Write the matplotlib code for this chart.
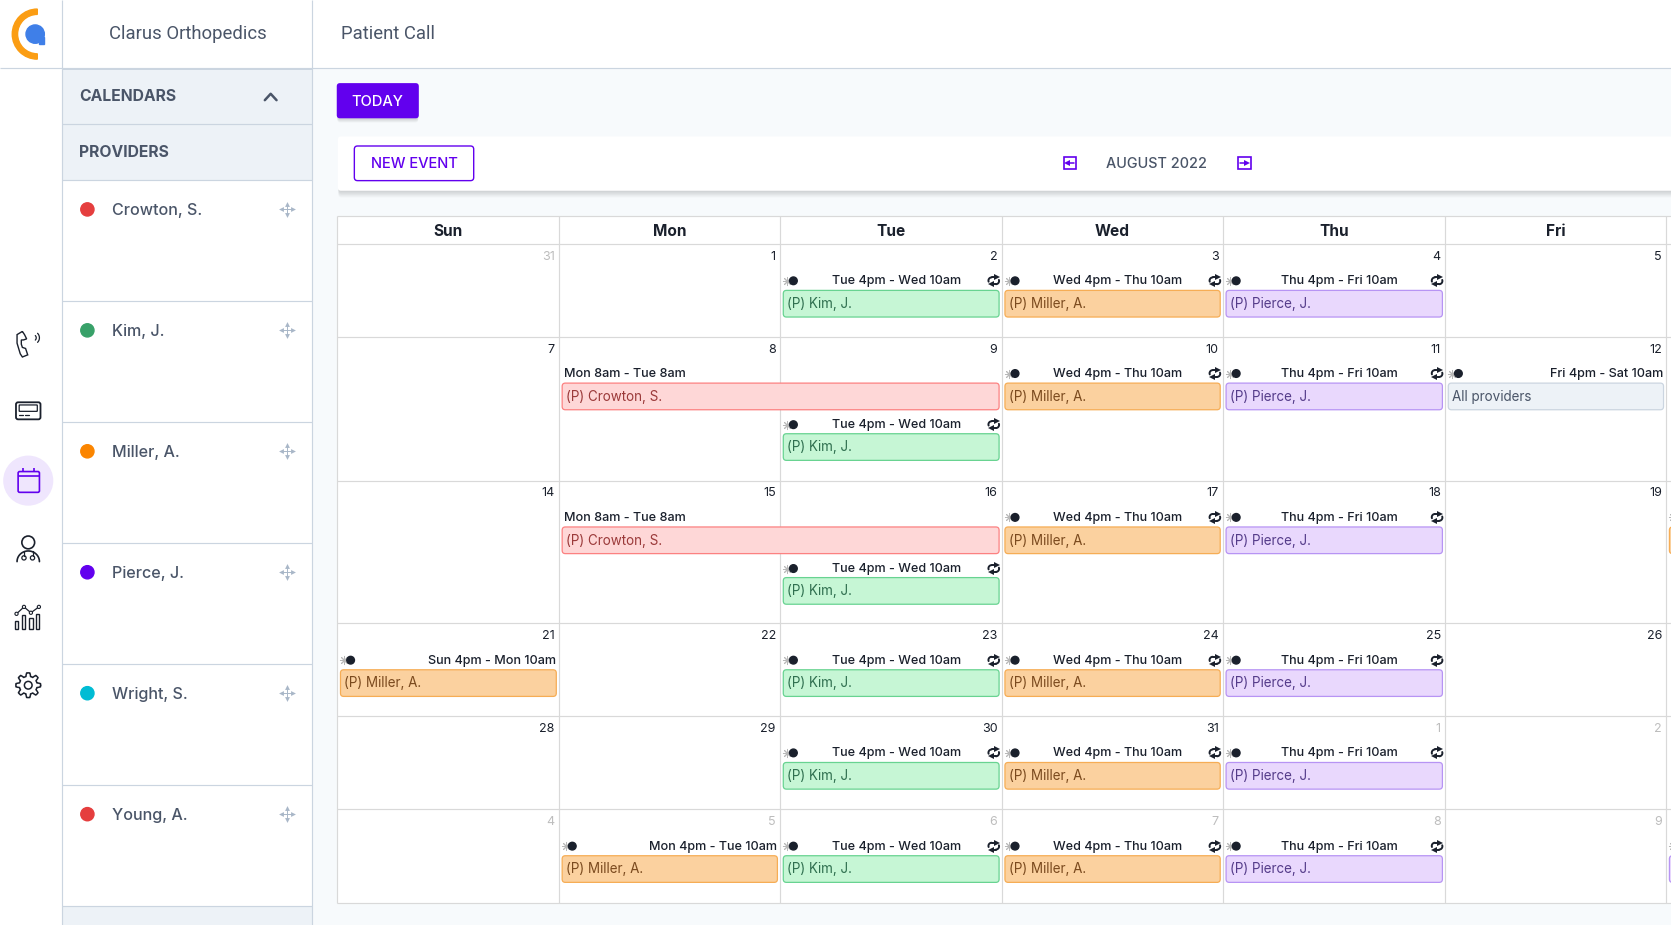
import numpy as np
import matplotlib
matplotlib.use('Agg')
import matplotlib.pyplot as plt
from matplotlib.patches import Circle, FancyBboxPatch, Rectangle, Wedge, PathPatch
from matplotlib.path import Path

plt.rcParams['font.family'] = ['Inter', 'DejaVu Sans']

weekdays = ['Sun', 'Mon', 'Tue', 'Wed', 'Thu', 'Fri', 'Sat']
week_dates = [
    [31, 1, 2, 3, 4, 5, 6],
    [7, 8, 9, 10, 11, 12, 13],
    [14, 15, 16, 17, 18, 19, 20],
    [21, 22, 23, 24, 25, 26, 27],
    [28, 29, 30, 31, 1, 2, 3],
    [4, 5, 6, 7, 8, 9, 10],
]
# (week, day) pairs that belong to another month
muted_first = [(0, 0)]
muted_from = (4, 4)

providers = ['Crowton, S.', 'Kim, J.', 'Miller, A.', 'Pierce, J.', 'Wright, S.', 'Young, A.']
provider_dots = ['#e53e3e', '#38a169', '#fb8500', '#6200ee', '#00bcd4', '#e53e3e']

ev_week = [1, 2, 0, 1, 2, 3, 4, 5, 0, 1, 2, 3, 4, 5, 0, 1, 2, 3, 4, 5, 1, 3, 5, 2, 5]
ev_day = [1, 1, 2, 2, 2, 2, 2, 2, 3, 3, 3, 3, 3, 3, 4, 4, 4, 4, 4, 4, 5, 0, 1, 6, 6]
ev_span = [2, 2] + [1] * 23
ev_name = ['(P) Crowton, S.'] * 2 + ['(P) Kim, J.'] * 6 + ['(P) Miller, A.'] * 6 + ['(P) Pierce, J.'] * 6 \
    + ['All providers', '(P) Miller, A.', '(P) Miller, A.', '(P) Miller, A.', '(P) Pierce, J.']
ev_time = ['Mon 8am - Tue 8am'] * 2 + ['Tue 4pm - Wed 10am'] * 6 + ['Wed 4pm - Thu 10am'] * 6 \
    + ['Thu 4pm - Fri 10am'] * 6 + ['Fri 4pm - Sat 10am', 'Sun 4pm - Mon 10am', 'Mon 4pm - Tue 10am',
                                    'Sat 4pm - Sun 10am', 'Sat 4pm - Sun 10am']
ev_repeat = [False] * 2 + [True] * 18 + [False] * 3 + [True] * 2

styles = {
    'Crowton': ('#fed7d7', '#fc8181', '#9b3a3a'),
    'Kim': ('#c6f6d5', '#68d391', '#2f6f4f'),
    'Miller': ('#fbd19f', '#f6ad55', '#7b4a1e'),
    'Pierce': ('#e9d8fd', '#b794f4', '#553c8a'),
    'All': ('#edf2f7', '#cbd5e0', '#4a5568'),
}

LINE = '#cbd5e0'
GRID = '#d9d9d9'
PURPLE = '#6200ee'
DARK = '#1a202c'
SLATE = '#4a5568'

col_x = [316.5, 524.5, 732, 940, 1147.5, 1356, 1563.5, 1771.5]
row_y = [229, 316, 451, 585, 672, 759.5, 847.5]
prov_y = [169, 282.5, 396, 509.5, 623, 736.5, 850]

fig = plt.figure(figsize=(16.71, 9.25), dpi=100, facecolor='white')
ax = fig.add_axes([0, 0, 1, 1])
ax.set_xlim(0, 1568)
ax.set_ylim(868, 0)
ax.axis('off')


def hline(y, x0, x1, color=LINE, lw=0.85, z=3):
    ax.plot([x0, x1], [y, y], color=color, lw=lw, zorder=z, solid_capstyle='butt')


def vline(x, y0, y1, color=LINE, lw=0.85, z=3):
    ax.plot([x, x], [y0, y1], color=color, lw=lw, zorder=z, solid_capstyle='butt')


def box(x0, y0, x1, y1, face, edge='none', lw=1.0, r=3, z=4):
    p = FancyBboxPatch((x0, y0), x1 - x0, y1 - y0, boxstyle=f'round,pad=0,rounding_size={r}',
                       fc=face, ec=edge, lw=lw, zorder=z)
    ax.add_patch(p)
    return p


def label(x, y, s, size, color=SLATE, ha='left', weight='normal', family=None, z=6):
    kw = {'family': family} if family else {}
    return ax.text(x, y, s, fontsize=size, color=color, ha=ha, va='center', fontweight=weight, zorder=z, **kw)


def stroke(xs, ys, color=DARK, lw=1.2, z=6):
    ax.plot(xs, ys, color=color, lw=lw, zorder=z, solid_capstyle='round', solid_joinstyle='round')


def shadow(x0, y0, x1, y1, grow=5, alpha=0.03, r=3):
    for g in range(1, grow + 1):
        box(x0 + 0.5, y0 + g * 0.3, x1 - 0.5, y1 + g * 0.8, 'black', r=r, z=2).set_alpha(alpha)


def sun_moon(x, y):
    ax.plot(x, y, marker=(8, 2, 0), ms=6.5, mew=0.7, color='#b8b8b8', zorder=6)
    ax.add_patch(Circle((x + 6, y), 3.6, color=DARK, zorder=7))


def repeat_icon(x, y):
    t = np.radians(np.linspace(90, 200, 8))
    stroke(x - 2 + 3 * np.cos(t), y - 0.2 - 3 * np.sin(t), lw=1.4)
    stroke([x - 2, x + 2], [y - 3.2, y - 3.2], lw=1.4)
    stroke(x + 2 - 3 * np.cos(t), y + 0.2 + 3 * np.sin(t), lw=1.4)
    stroke([x + 2, x - 2], [y + 3.2, y + 3.2], lw=1.4)
    ax.plot(x + 2.8, y - 3.2, marker='>', ms=4.6, color=DARK, mew=0, zorder=6)
    ax.plot(x - 2.8, y + 3.2, marker='<', ms=4.6, color=DARK, mew=0, zorder=6)


def move_icon(x, y):
    c = '#a9b7c8'
    stroke([x - 6, x + 6], [y, y], color=c, lw=0.7)
    stroke([x, x], [y - 6, y + 6], color=c, lw=0.7)
    for dx, dy, m in [(-5.5, 0, '<'), (5.5, 0, '>'), (0, -5.5, '^'), (0, 5.5, 'v')]:
        ax.plot(x + dx, y + dy, marker=m, ms=3.5, mew=0, color=c, zorder=6)


# page background
ax.add_patch(Rectangle((293.5, 64.5), 1280, 810, fc='#f7fafc', ec='none', zorder=1))
ax.add_patch(Rectangle((58.5, 64.5), 235, 104.5, fc='#edf2f7', ec='none', zorder=1))
ax.add_patch(Rectangle((58.5, prov_y[-1]), 235, 20, fc='#edf2f7', ec='none', zorder=1))

# frame of the shell
hline(64, 0, 1568)
hline(65, 58.5, 293, lw=1.4)
vline(58, 0, 868)
vline(293, 0, 868)
hline(116.5, 58.5, 293)
for y in prov_y:
    hline(y, 58.5, 293)

# logo
ax.add_patch(Wedge((35, 32), 23.5, 90, 270, width=5, color='#fb9d13', zorder=5))
ax.add_patch(Circle((33, 32), 8.6, color='#3f7fe8', zorder=5))
ax.add_patch(Rectangle((36.5, 35), 5, 6, color='#3f7fe8', zorder=5))

# top titles
label(102.5, 31.5, 'Clarus Orthopedics', 13.3, family='Roboto')
label(320, 31.5, 'Patient Call', 13.3, family='Roboto')

# side nav icons
phone = Path([(21, 311), (16, 314), (16, 322), (19, 332), (21, 335), (26, 333), (25, 330), (24, 327), (21, 326),
              (20, 323), (20, 319), (22, 319), (25, 318), (23, 314), (21, 311)])
ax.add_patch(PathPatch(phone, fc='none', ec=DARK, lw=1.0, zorder=6))
for r in (3, 6):
    t = np.radians(np.linspace(-45, 45, 12))
    stroke(31 + r * np.cos(t), 317 + r * np.sin(t), lw=0.9)
box(15, 377.5, 38, 393.5, 'none', DARK, lw=1.3, r=2)
box(18, 380, 35, 386, 'none', DARK, lw=0.9, r=0.5)
stroke([18, 21.5], [389.5, 389.5], lw=0.9)
stroke([23.5, 27], [389.5, 389.5], lw=0.9)
ax.add_patch(Circle((26.5, 451), 23.5, fc='#efe6fd', ec='none', zorder=4))
box(17, 442.5, 37, 462, 'none', PURPLE, lw=1.2, r=1.5, z=6)
hline(447, 17, 37, color=PURPLE, lw=1.2, z=6)
vline(21.5, 439.5, 443, color=PURPLE, lw=1.2, z=6)
vline(32, 439.5, 443, color=PURPLE, lw=1.2, z=6)
ax.add_patch(Circle((26.5, 509), 6, fc='none', ec=DARK, lw=1.2, zorder=6))
t = np.radians(np.linspace(180, 360, 30))
stroke(26.5 + 10.5 * np.cos(t), 527 + 10 * np.sin(t), lw=1.2)
ax.add_patch(Circle((22.5, 523.5), 2, fc='none', ec=DARK, lw=0.9, zorder=6))
ax.add_patch(Circle((30.5, 523.5), 2, fc='none', ec=DARK, lw=0.9, zorder=6))
stroke([22.5, 22.5], [521.5, 517], lw=0.9)
stroke([30.5, 30.5], [521.5, 517], lw=0.9)
for x0, y0 in [(15, 583), (21.5, 577), (28.5, 580), (35, 576)]:
    ax.add_patch(Rectangle((x0 - 1, y0), 3, 590 - y0, fc='none', ec=DARK, lw=1.0, zorder=6))
stroke([15.5, 22.5, 29, 36.5], [576, 569.5, 575, 569.5], lw=0.9)
for x0, y0 in [(15.5, 576), (22.5, 569.5), (29, 575), (36.5, 569.5)]:
    ax.add_patch(Circle((x0, y0), 1.5, fc='white', ec=DARK, lw=0.8, zorder=7))
ang = np.radians(np.linspace(0, 360, 97))
rad = 10 + 1.6 * np.clip(3 * np.cos(8 * ang), -1, 1)
stroke(26.5 + rad * np.cos(ang), 643 + rad * np.sin(ang), lw=1.1)
ax.add_patch(Circle((26.5, 643), 3.6, fc='none', ec=DARK, lw=1.1, zorder=6))

# sidebar
label(74, 90.5, 'CALENDARS', 11.3, weight='bold')
label(74, 143, 'PROVIDERS', 11.3, weight='bold')
stroke([248.5, 254, 259.5], [94, 88, 94], color=SLATE, lw=1.8)
for i, (name, dot) in enumerate(zip(providers, provider_dots)):
    y = prov_y[i] + 27.5
    ax.add_patch(Circle((82, y), 6.2, color=dot, zorder=5))
    label(105, y + 1, name, 11.6, weight='medium')
    move_icon(269.5, y)

# toolbar
shadow(316, 78, 393, 111)
box(316, 78, 393, 111, PURPLE, r=3)
label(354.5, 95.5, 'TODAY', 10.6, color='white', ha='center', weight='medium')
shadow(317, 128, 1600, 179, grow=8, alpha=0.02)
box(317, 128, 1600, 179, 'white', r=3, z=3)
box(332.5, 137, 444.5, 169.5, 'white', PURPLE, lw=1.0, r=3)
label(388.5, 153.5, 'NEW EVENT', 10.6, color=PURPLE, ha='center', weight='medium')
label(1085.5, 153.5, 'AUGUST 2022', 10.4, ha='center', weight='medium')
for x, m, x0, x1 in [(1004, '<', 1008, 1001.5), (1168, '>', 1164, 1170.5)]:
    ax.add_patch(Rectangle((x - 6, 147), 12, 12, fc='white', ec=PURPLE, lw=1.2, zorder=5))
    stroke([x0, x1], [153, 153], color=PURPLE, lw=1.1)
    ax.plot(x1, 153, marker=m, ms=4.5, mew=0, color=PURPLE, zorder=6)

# calendar grid
ax.add_patch(Rectangle((317, 203), 1300, row_y[-1] - 203, fc='white', ec='none', zorder=2))
hline(202.5, 316.5, 1568, color=GRID)
for y in row_y:
    hline(y, 316.5, 1568, color=GRID)
for x in col_x[:7]:
    vline(x, 202.5, row_y[-1], color=GRID)
for d, name in enumerate(weekdays[:6]):
    label((col_x[d] + col_x[d + 1]) / 2, 217, name, 11.1, color=DARK, ha='center', weight='bold')

for w, dates in enumerate(week_dates):
    for d, n in enumerate(dates[:6]):
        muted = (w, d) in muted_first or (w, d) >= muted_from
        label(col_x[d + 1] - 4, row_y[w] + 12, str(n), 9, color='#bdbdbd' if muted else DARK, ha='right')

# events
for w, d, span, name, when, rep in zip(ev_week, ev_day, ev_span, ev_name, ev_time, ev_repeat):
    top = row_y[w]
    # a one day event drops below a longer one that covers the same day
    lower = span == 1 and any(
        ev_week[k] == w and ev_span[k] > 1 and ev_day[k] <= d < ev_day[k] + ev_span[k] for k in range(len(ev_week)))
    y_time = top + (83 if lower else 35)
    y_bar = top + (91 if lower else 43.5)
    x0, x1 = col_x[d], col_x[d + span]
    key = 'All' if name.startswith('All') else name.split()[1].rstrip(',')
    bg, edge, fg = styles[key]
    box(x0 + 3, y_bar, x1 - 2.5, y_bar + 25, bg, edge, lw=0.9, r=3)
    sun = span == 1
    if sun:
        sun_moon(x0 + 6.5, y_time - 0.5)
    # saturday runs off the page, only the edge of its bar and icon shows
    if d == 6:
        continue
    label(x0 + 6.5, y_bar + 12.8, name, 9.7, color=fg)
    if span > 1:
        label(x0 + 4.5, y_time, when, 9.1, color=DARK, weight='medium')
    elif rep:
        label((x0 + x1) / 2 + 5, y_time, when, 9.1, color=DARK, ha='center', weight='medium')
        repeat_icon(x1 - 7.5, y_time - 0.5)
    else:
        label(x1 - 3, y_time, when, 9.1, color=DARK, ha='right', weight='medium')

fig.savefig('out.png', dpi=100)
